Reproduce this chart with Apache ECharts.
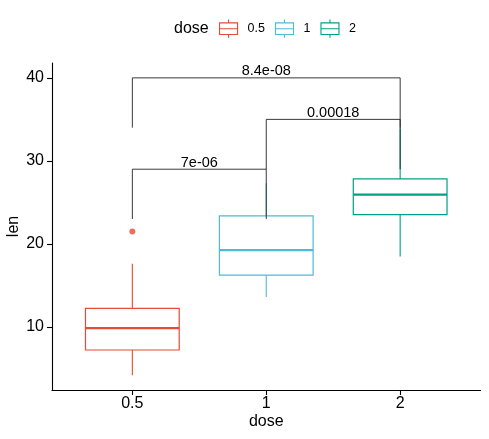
<!DOCTYPE html>
<html>
<head>
<meta charset="utf-8">
<script src="https://cdn.jsdelivr.net/npm/echarts@6/dist/echarts.min.js"></script>
<style>
html,body{margin:0;padding:0;background:#fff;}
#chart{width:489px;height:439px;}
</style>
</head>
<body>
<div id="chart"></div>
<script>
// ---- data ----
const categories = ['0.5', '1', '2'];
const mins    = [4.2, 13.6, 18.5];
const q1s     = [7.225, 16.25, 23.525];
const medians = [9.85, 19.25, 25.95];
const q3s     = [12.25, 23.375, 27.825];
const maxs    = [17.6, 27.3, 33.9];
const outlierCategory = [0];
const outlierValue = [21.5];
const yTicks = [10, 20, 30, 40];
const compareFrom = [0, 1, 0];
const compareTo   = [1, 2, 2];
const compareY    = [29, 35, 40];
const compareTip  = [6, 6, 6];
const compareLabel = ['7e-06', '0.00018', '8.4e-08'];

// ---- styles ----
const colors = ['#E64B35', '#4DBBD5', '#00A087'];
const FONT = 'Liberation Sans, Arial, sans-serif';
const HALF = 0.35;

const chart = echarts.init(document.getElementById('chart'), null, {renderer: 'canvas'});

const xPos = i => i + 1;

const boxSeries = categories.map((c, i) => ({
  name: c,
  type: 'custom',
  itemStyle: {color: colors[i]},
  z: 2,
  data: [[xPos(i), mins[i], q1s[i], medians[i], q3s[i], maxs[i]]],
  renderItem: (params, api) => {
    const x = api.value(0);
    const mn = api.value(1), q1 = api.value(2), md = api.value(3), q3 = api.value(4), mx = api.value(5);
    const tl = api.coord([x - HALF, q3]);
    const br = api.coord([x + HALF, q1]);
    const top = api.coord([x, mx]);
    const bot = api.coord([x, mn]);
    const ml = api.coord([x - HALF, md]);
    const mr = api.coord([x + HALF, md]);
    const col = colors[i];
    return {
      type: 'group',
      children: [
        {type: 'line', shape: {x1: top[0], y1: top[1], x2: top[0], y2: tl[1]}, style: {stroke: col, lineWidth: 1.1}},
        {type: 'line', shape: {x1: bot[0], y1: br[1], x2: bot[0], y2: bot[1]}, style: {stroke: col, lineWidth: 1.1}},
        {type: 'rect', shape: {x: tl[0], y: tl[1], width: br[0] - tl[0], height: br[1] - tl[1]}, style: {fill: '#fff', stroke: col, lineWidth: 1.2}},
        {type: 'line', shape: {x1: ml[0], y1: ml[1], x2: mr[0], y2: mr[1]}, style: {stroke: col, lineWidth: 2.3}}
      ]
    };
  }
}));

const outlierSeries = {
  name: 'outliers',
  type: 'scatter',
  symbol: 'circle',
  symbolSize: 6,
  z: 3,
  data: outlierCategory.map((ci, k) => ({value: [xPos(ci), outlierValue[k]], itemStyle: {color: colors[ci]}})),
  silent: true
};

const bracketSeries = compareFrom.map((f, k) => ({
  name: 'bracket' + k,
  type: 'line',
  z: 4,
  symbol: 'none',
  silent: true,
  lineStyle: {color: '#222', width: 0.9},
  data: [
    [xPos(f), compareY[k] - compareTip[k]],
    [xPos(f), compareY[k]],
    [xPos(compareTo[k]), compareY[k]],
    [xPos(compareTo[k]), compareY[k] - compareTip[k]]
  ]
}));

const labelSeries = {
  name: 'pvalues',
  type: 'custom',
  z: 5,
  silent: true,
  data: compareFrom.map((f, k) => [(xPos(f) + xPos(compareTo[k])) / 2, compareY[k], compareLabel[k]]),
  renderItem: (params, api) => {
    const p = api.coord([api.value(0), api.value(1)]);
    return {
      type: 'text',
      x: p[0], y: p[1] + 1,
      style: {
        text: compareLabel[params.dataIndex],
        fontSize: 14.5,
        fontFamily: FONT,
        fill: '#000',
        align: 'center',
        verticalAlign: 'bottom'
      }
    };
  }
};

const iconPath = 'path://M0,3.3 L18,3.3 L18,15 L0,15 Z M0,9.2 L18,9.2 M9,0 L9,3.3 M9,15 L9,18.3 M23,9';

chart.setOption({
  backgroundColor: '#fff',
  animation: false,
  title: {
    text: 'dose',
    left: 174,
    top: 21,
    padding: 0,
    textStyle: {fontSize: 16, fontWeight: 'normal', color: '#000', fontFamily: FONT}
  },
  legend: {
    left: 219,
    top: 19,
    padding: 0,
    itemWidth: 23,
    itemHeight: 18.3,
    itemGap: 10,
    textStyle: {fontSize: 12.5, color: '#000', fontFamily: FONT},
    data: categories.map((c, i) => ({
      name: c,
      icon: iconPath,
      itemStyle: {color: 'rgba(0,0,0,0)', borderColor: colors[i], borderWidth: 1.1}
    }))
  },
  grid: {left: 52, right: 8.5, top: 63, bottom: 49, containLabel: false, outerBoundsMode: 'none'},
  xAxis: {
    type: 'value',
    min: 0.4,
    max: 3.6,
    name: 'dose',
    nameLocation: 'middle',
    nameGap: 24,
    nameMoveOverlap: false,
    nameTextStyle: {fontSize: 16, color: '#000', fontFamily: FONT},
    axisLine: {show: true, lineStyle: {color: '#000', width: 1.1}},
    axisTick: {show: true, length: 5, customValues: categories.map((c, i) => xPos(i)), lineStyle: {color: '#000', width: 1.1}},
    axisLabel: {
      customValues: categories.map((c, i) => xPos(i)),
      formatter: v => categories[Math.round(v) - 1],
      fontSize: 16, color: '#000', fontFamily: FONT, margin: 6
    },
    splitLine: {show: false}
  },
  yAxis: {
    type: 'value',
    min: 2.41,
    max: 41.79,
    name: 'len',
    nameLocation: 'middle',
    nameGap: 30,
    nameMoveOverlap: false,
    nameTextStyle: {fontSize: 16, color: '#000', fontFamily: FONT},
    axisLine: {show: true, lineStyle: {color: '#000', width: 1.1}},
    axisTick: {show: true, length: 5, customValues: yTicks, lineStyle: {color: '#000', width: 1.1}},
    axisLabel: {customValues: yTicks, fontSize: 16, color: '#000', fontFamily: FONT, margin: 8},
    splitLine: {show: false}
  },
  series: [...boxSeries, outlierSeries, ...bracketSeries, labelSeries]
});
</script>
</body>
</html>
